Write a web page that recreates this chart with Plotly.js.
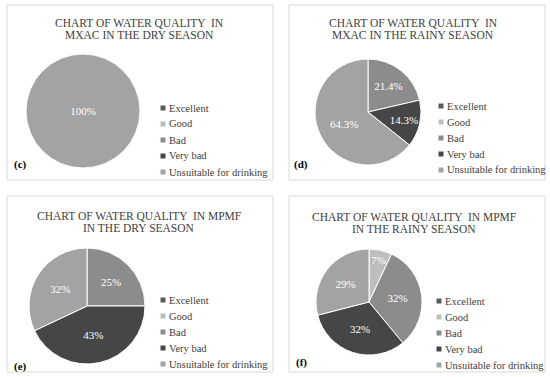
<!DOCTYPE html>
<html>
<head>
<meta charset="utf-8">
<script src="https://cdn.plot.ly/plotly-3.0.1.min.js"></script>
<style>
  html, body { margin: 0; padding: 0; background: #ffffff; }
  #chart { width: 550px; height: 377px; }
</style>
</head>
<body>
<div id="chart"></div>
<script>
// ---- data ----
const categories = ['Excellent', 'Good', 'Bad', 'Very bad', 'Unsuitable for drinking'];
const sliceColors = ['#5a5a5a', '#bebebe', '#8c8c8c', '#464646', '#a3a3a3'];

const valuesMxacDry   = [0, 0, 0, 0, 100];
const valuesMxacRainy = [0, 0, 21.4, 14.3, 64.3];
const valuesMpmfDry   = [0, 0, 25, 43, 32];
const valuesMpmfRainy = [0, 7, 32, 32, 29];

const titleMxacDry   = ['CHART OF WATER QUALITY  IN', 'MXAC IN THE DRY SEASON'];
const titleMxacRainy = ['CHART OF WATER QUALITY  IN', 'MXAC IN THE RAINY SEASON'];
const titleMpmfDry   = ['CHART OF WATER QUALITY  IN MPMF', 'IN THE DRY SEASON'];
const titleMpmfRainy = ['CHART OF WATER QUALITY  IN MPMF', 'IN THE RAINY SEASON'];

const panelTags = ['(c)', '(d)', '(e)', '(f)'];

// ---- layout geometry (pixels) ----
const W = 550, H = 377;
const px = x => x / W;
const py = y => 1 - y / H;

const panels = [
  { values: valuesMxacDry,   title: titleMxacDry,   tag: panelTags[0],
    box: [7, 5, 273, 180],   pie: { cx: 83,  cy: 111, r: 57 }, template: '<br><br>%{percent}',
    titleX: 140, titleY: [23.5, 35], legX: 163, legY: 108, tagPos: [20, 164] },
  { values: valuesMxacRainy, title: titleMxacRainy, tag: panelTags[1],
    box: [289, 5, 545, 180], pie: { cx: 368, cy: 112, r: 53 }, template: '%{percent}',
    titleX: 413, titleY: [23.5, 35], legX: 441, legY: 106, tagPos: [301, 164] },
  { values: valuesMpmfDry,   title: titleMpmfDry,   tag: panelTags[2],
    box: [7, 196, 273, 372], pie: { cx: 87,  cy: 306, r: 58 }, template: '%{percent}',
    titleX: 139, titleY: [216, 228], legX: 163, legY: 300, tagPos: [20, 366] },
  { values: valuesMpmfRainy, title: titleMpmfRainy, tag: panelTags[3],
    box: [289, 196, 545, 372], pie: { cx: 369, cy: 302, r: 53 }, template: '%{percent}',
    titleX: 414, titleY: [217, 229], legX: 439, legY: 301, tagPos: [301, 362] }
];

const FONT = 'Times New Roman, Liberation Serif, serif';
const TEXT_COLOR = '#404040';
const ROW = 16;

const traces = [];
const shapes = [];
const annotations = [];

panels.forEach(p => {
  traces.push({
    type: 'pie',
    labels: categories,
    values: p.values,
    sort: false,
    direction: 'clockwise',
    rotation: 0,
    marker: { colors: sliceColors, line: { color: '#ffffff', width: 1 } },
    texttemplate: p.template,
    textposition: 'inside',
    insidetextorientation: 'horizontal',
    insidetextfont: { family: FONT, size: 11, color: '#ffffff' },
    textfont: { family: FONT, size: 11, color: '#ffffff' },
    hoverinfo: 'label+percent',
    showlegend: false,
    domain: {
      x: [px(p.pie.cx - p.pie.r), px(p.pie.cx + p.pie.r)],
      y: [py(p.pie.cy + p.pie.r), py(p.pie.cy - p.pie.r)]
    }
  });

  // panel frame
  shapes.push({
    type: 'rect', xref: 'paper', yref: 'paper',
    x0: px(p.box[0]), x1: px(p.box[2]), y0: py(p.box[3]), y1: py(p.box[1]),
    line: { color: '#d9d9d9', width: 1 }, fillcolor: 'rgba(0,0,0,0)'
  });

  // title lines
  p.title.forEach((line, i) => {
    annotations.push({
      xref: 'paper', yref: 'paper', x: px(p.titleX), y: py(p.titleY[i]),
      xanchor: 'center', yanchor: 'middle', showarrow: false,
      text: line, font: { family: FONT, size: 11.5, color: TEXT_COLOR }
    });
  });

  // legend
  categories.forEach((cat, i) => {
    const yc = p.legY + i * ROW;
    shapes.push({
      type: 'rect', xref: 'paper', yref: 'paper',
      x0: px(p.legX - 2.5), x1: px(p.legX + 2.5),
      y0: py(yc + 2.5), y1: py(yc - 2.5),
      line: { width: 0 }, fillcolor: sliceColors[i]
    });
    annotations.push({
      xref: 'paper', yref: 'paper', x: px(p.legX + 4), y: py(yc),
      xanchor: 'left', yanchor: 'middle', showarrow: false,
      text: cat, font: { family: FONT, size: 10.5, color: TEXT_COLOR }
    });
  });

  // panel tag
  annotations.push({
    xref: 'paper', yref: 'paper', x: px(p.tagPos[0]), y: py(p.tagPos[1]),
    xanchor: 'center', yanchor: 'middle', showarrow: false,
    text: '<b>' + p.tag + '</b>', font: { family: FONT, size: 11, color: '#000000' }
  });
});

const layout = {
  width: W, height: H,
  margin: { l: 0, r: 0, t: 0, b: 0 },
  paper_bgcolor: '#ffffff',
  plot_bgcolor: '#ffffff',
  showlegend: false,
  font: { family: FONT },
  shapes: shapes,
  annotations: annotations
};

Plotly.newPlot('chart', traces, layout, { staticPlot: true, displayModeBar: false });
</script>
</body>
</html>
